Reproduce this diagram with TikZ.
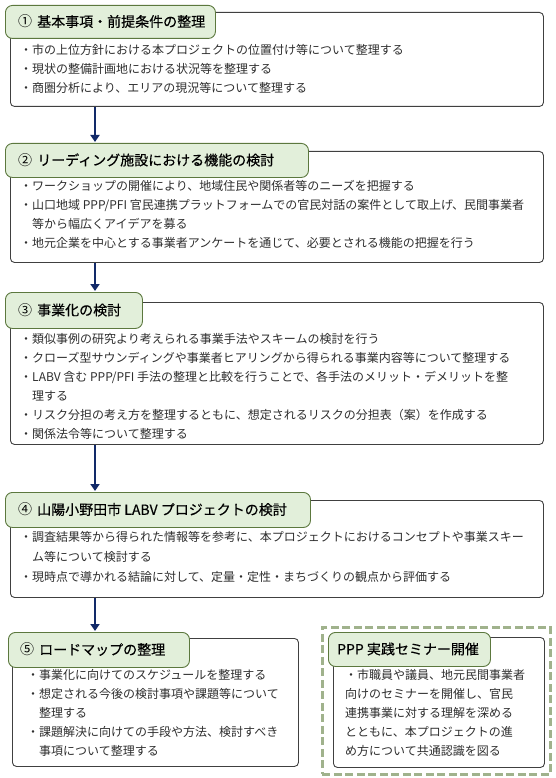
\documentclass[tikz,border=0pt]{standalone}
\usepackage{fontspec}
\setmainfont{Noto Sans CJK JP}
\newfontfamily\jpt{Noto Sans CJK JP}[FakeBold=0.3]
\newfontfamily\jpn{Noto Sans CJK JP}
\newcommand\numc[1]{{\jpn #1}\hspace{5pt}}
\usetikzlibrary{arrows.meta}
\definecolor{tabfill}{RGB}{226,239,218}
\definecolor{tabline}{RGB}{92,120,62}
\definecolor{boxline}{RGB}{64,64,64}
\definecolor{navy}{RGB}{18,42,105}
\definecolor{dashgreen}{RGB}{160,178,140}
\tikzset{
  panel/.style={draw=boxline, line width=0.9pt, rounded corners=4pt, fill=white, anchor=north west, inner sep=0pt},
  tabbox/.style={draw=tabline, fill=tabfill, line width=0.9pt, rounded corners=7pt, anchor=north west, inner sep=0pt},
  ttl/.style={anchor=west, inner sep=0pt, font=\jpt\fontsize{14}{16}\selectfont, text=black},
  body/.style={anchor=north west, inner sep=0pt, align=left, font=\fontsize{12}{19}\selectfont, text=black!82},
  flow/.style={draw=navy, line width=2.4pt, shorten >=1pt, -{Triangle[length=7pt,width=9pt]}},
  dashframe/.style={draw=dashgreen, line width=2.6pt, dash pattern=on 8pt off 3.5pt, anchor=north west, inner sep=0pt}
}
\begin{document}
\begin{tikzpicture}[x=1pt,y=-1pt]
\useasboundingbox (0,0) rectangle (556,778);
% ---- box 1
\node[panel, minimum width=533pt, minimum height=94pt] (b1) at (10,12) {};
\node[tabbox, minimum width=210pt, minimum height=33pt] (t1) at (5,5) {};
\node[ttl] (h1) at (18,21.5) {\numc{①}基本事項・前提条件の整理};
\node[body] (x1) at (20,44.6) {\rule{0pt}{10pt}・市の上位方針における本プロジェクトの位置付け等について整理する\\
・現状の整備計画地における状況等を整理する\\
・商圏分析により、エリアの現況等について整理する};
% ---- box 2
\node[panel, minimum width=533pt, minimum height=111pt] (b2) at (10,151) {};
\node[tabbox, minimum width=303pt, minimum height=34pt] (t2) at (5,143) {};
\node[ttl] (h2) at (18,160) {\numc{②}リーディング施設における機能の検討};
\node[body] (x2) at (20,180.6) {\rule{0pt}{10pt}・ワークショップの開催により、地域住民や関係者等のニーズを把握する\\
・山口地域 PPP/PFI 官民連携プラットフォームでの官民対話の案件として取上げ、民間事業者\\
\hspace*{1em}等から幅広くアイデアを募る\\
・地元企業を中心とする事業者アンケートを通じて、必要とされる機能の把握を行う};
% ---- box 3
\node[panel, minimum width=533pt, minimum height=142pt] (b3) at (10,302) {};
\node[tabbox, minimum width=137pt, minimum height=36pt] (t3) at (5,292) {};
\node[ttl] (h3) at (18,310) {\numc{③}事業化の検討};
\node[body] (x3) at (20,333.6) {\rule{0pt}{10pt}・類似事例の研究より考えられる事業手法やスキームの検討を行う\\
・クローズ型サウンディングや事業者ヒアリングから得られる事業内容等について整理する\\
・LABV 含む PPP/PFI 手法の整理と比較を行うことで、各手法のメリット・デメリットを整\\
\hspace*{1em}理する\\
・リスク分担の考え方を整理するともに、想定されるリスクの分担表（案）を作成する\\
・関係法令等について整理する};
% ---- box 4
\node[panel, minimum width=533pt, minimum height=97pt] (b4) at (10,500) {};
\node[tabbox, minimum width=305pt, minimum height=35pt] (t4) at (5,492) {};
\node[ttl] (h4) at (18,509.5) {\numc{④}山陽小野田市 LABV プロジェクトの検討};
\node[body, font=\fontsize{12}{20}\selectfont] (x4) at (20,531.6) {\rule{0pt}{10pt}・調査結果等から得られた情報等を参考に、本プロジェクトにおけるコンセプトや事業スキー\\
\hspace*{1em}ム等について検討する\\
・現時点で導かれる結論に対して、定量・定性・まちづくりの観点から評価する};
% ---- box 5
\node[panel, minimum width=286pt, minimum height=128pt] (b5) at (12,638) {};
\node[tabbox, minimum width=181pt, minimum height=35pt] (t5) at (8,632) {};
\node[ttl] (h5) at (20,649.5) {\numc{⑤}ロードマップの整理};
\node[body] (x5) at (27,669.6) {\rule{0pt}{10pt}・事業化に向けてのスケジュールを整理する\\
・想定される今後の検討事項や課題等について\\
\hspace*{1em}整理する\\
・課題解決に向けての手段や方法、検討すべき\\
\hspace*{1em}事項について整理する};
% ---- seminar
\node[dashframe, minimum width=228pt, minimum height=147pt] (sf) at (321,626) {};
\node[panel, minimum width=211pt, minimum height=130pt] (b6) at (333,637) {};
\node[tabbox, minimum width=162pt, minimum height=34pt] (t6) at (328,632) {};
\node[ttl] (h6) at (337,649) {PPP 実践セミナー開催};
\node[body] (x6) at (345,669.6) {\rule{0pt}{10pt}・市職員や議員、地元民間事業者\\
向けのセミナーを開催し、官民\\
連携事業に対する理解を深める\\
とともに、本プロジェクトの進\\
め方について共通認識を図る};
% ---- arrows
\draw[flow] ([xshift=85pt]b1.south west) -- ([xshift=90pt]t2.north west);
\draw[flow] ([xshift=85pt]b2.south west) -- ([xshift=90pt]t3.north west);
\draw[flow] ([xshift=85pt]b3.south west) -- ([xshift=90pt]t4.north west);
\draw[flow] ([xshift=85pt]b4.south west) -- ([xshift=87pt]t5.north west);
\end{tikzpicture}
\end{document}
